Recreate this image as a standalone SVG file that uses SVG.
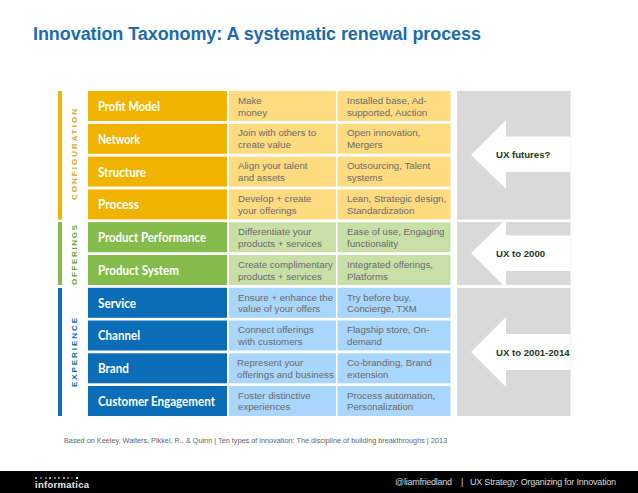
<svg xmlns="http://www.w3.org/2000/svg" width="638" height="493" viewBox="0 0 638 493">
<style>
text{font-family:"Liberation Sans",Arial,sans-serif}
.title{font-size:18px;font-weight:bold;fill:#1b6cb0}
.h{font-family:"Lato","Liberation Sans",sans-serif;font-size:14px;font-weight:bold;fill:#fff}
.d{font-size:9.700px;fill:#6a6a6a}
.v{font-size:8px;font-weight:bold;text-anchor:middle}
.ux{font-size:9.600px;font-weight:bold;fill:#1c3a1c}
.y1{fill:#f0b400}.y2{fill:#ffdb80}
.g1{fill:#84bb4a}.g2{fill:#c9dfa8}
.b1{fill:#0b6cb8}.b2{fill:#a9d6fc}
.gray{fill:#d9d9d9}.w{fill:#fff}
.f{font-size:9px;fill:#d8d8d8}
</style>
<rect width="638" height="493" fill="#fff"/>
<text class="title" x="33" y="40" textLength="448">Innovation Taxonomy: A systematic renewal process</text>
<g id="category-configuration"><rect class="y1" x="58" y="91" width="4" height="128.500"/><text class="v" transform="translate(77 154.500) rotate(-90)" fill="#d9a520" textLength="91">CONFIGURATION</text></g>
<g id="category-offerings"><rect class="g1" x="58" y="222" width="4" height="63"/><text class="v" transform="translate(77 255) rotate(-90)" fill="#6f9f3f" textLength="60">OFFERINGS</text></g>
<g id="category-experience"><rect class="b1" x="58" y="288" width="4" height="128"/><text class="v" transform="translate(77 352.500) rotate(-90)" fill="#0b6cb8" textLength="69">EXPERIENCE</text></g>
<g id="row-profit-model"><rect class="y1" x="88" y="91" width="139" height="30"/><rect class="y2" x="229" y="91" width="107" height="30"/><rect class="y2" x="337.500" y="91" width="113" height="30"/><text class="h" x="98" y="111" textLength="62" lengthAdjust="spacingAndGlyphs">Profit Model</text><text class="d" x="238" y="104">Make</text><text class="d" x="238" y="116">money</text><text class="d" x="347" y="104">Installed base, Ad-</text><text class="d" x="347" y="116">supported, Auction</text></g>
<g id="row-network"><rect class="y1" x="88" y="123.800" width="139" height="30"/><rect class="y2" x="229" y="123.800" width="107" height="30"/><rect class="y2" x="337.500" y="123.800" width="113" height="30"/><text class="h" x="98" y="144" textLength="42" lengthAdjust="spacingAndGlyphs">Network</text><text class="d" x="238" y="136">Join with others to</text><text class="d" x="238" y="148">create value</text><text class="d" x="347" y="136">Open innovation,</text><text class="d" x="347" y="148">Mergers</text></g>
<g id="row-structure"><rect class="y1" x="88" y="156.600" width="139" height="30"/><rect class="y2" x="229" y="156.600" width="107" height="30"/><rect class="y2" x="337.500" y="156.600" width="113" height="30"/><text class="h" x="98" y="177" textLength="48" lengthAdjust="spacingAndGlyphs">Structure</text><text class="d" x="238" y="169">Align your talent</text><text class="d" x="238" y="181">and assets</text><text class="d" x="347" y="169">Outsourcing, Talent</text><text class="d" x="347" y="181">systems</text></g>
<g id="row-process"><rect class="y1" x="88" y="189.400" width="139" height="30"/><rect class="y2" x="229" y="189.400" width="107" height="30"/><rect class="y2" x="337.500" y="189.400" width="113" height="30"/><text class="h" x="98" y="209" textLength="41" lengthAdjust="spacingAndGlyphs">Process</text><text class="d" x="238" y="202">Develop + create</text><text class="d" x="238" y="214">your offerings</text><text class="d" x="347" y="202">Lean, Strategic design,</text><text class="d" x="347" y="214">Standardization</text></g>
<g id="row-product-performance"><rect class="g1" x="88" y="222.200" width="139" height="30"/><rect class="g2" x="229" y="222.200" width="107" height="30"/><rect class="g2" x="337.500" y="222.200" width="113" height="30"/><text class="h" x="98" y="242" textLength="108" lengthAdjust="spacingAndGlyphs">Product Performance</text><text class="d" x="238" y="235">Differentiate your</text><text class="d" x="238" y="247">products + services</text><text class="d" x="347" y="235">Ease of use, Engaging</text><text class="d" x="347" y="247">functionality</text></g>
<g id="row-product-system"><rect class="g1" x="88" y="255" width="139" height="30"/><rect class="g2" x="229" y="255" width="107" height="30"/><rect class="g2" x="337.500" y="255" width="113" height="30"/><text class="h" x="98" y="275" textLength="81" lengthAdjust="spacingAndGlyphs">Product System</text><text class="d" x="238" y="268">Create complimentary</text><text class="d" x="238" y="280">products + services</text><text class="d" x="347" y="268">Integrated offerings,</text><text class="d" x="347" y="280">Platforms</text></g>
<g id="row-service"><rect class="b1" x="88" y="287.800" width="139" height="30"/><rect class="b2" x="229" y="287.800" width="107" height="30"/><rect class="b2" x="337.500" y="287.800" width="113" height="30"/><text class="h" x="98" y="308" textLength="38" lengthAdjust="spacingAndGlyphs">Service</text><text class="d" x="238" y="301">Ensure + enhance the</text><text class="d" x="238" y="312">value of your offers</text><text class="d" x="347" y="301">Try before buy,</text><text class="d" x="347" y="312">Concierge, TXM</text></g>
<g id="row-channel"><rect class="b1" x="88" y="320.500" width="139" height="30"/><rect class="b2" x="229" y="320.500" width="107" height="30"/><rect class="b2" x="337.500" y="320.500" width="113" height="30"/><text class="h" x="98" y="340" textLength="42" lengthAdjust="spacingAndGlyphs">Channel</text><text class="d" x="238" y="333">Connect offerings</text><text class="d" x="238" y="345">with customers</text><text class="d" x="347" y="333">Flagship store, On-</text><text class="d" x="347" y="345">demand</text></g>
<g id="row-brand"><rect class="b1" x="88" y="353.300" width="139" height="30"/><rect class="b2" x="229" y="353.300" width="107" height="30"/><rect class="b2" x="337.500" y="353.300" width="113" height="30"/><text class="h" x="98" y="373" textLength="31" lengthAdjust="spacingAndGlyphs">Brand</text><text class="d" x="237" y="366">Represent your</text><text class="d" x="237" y="378">offerings and business</text><text class="d" x="347" y="366">Co-branding, Brand</text><text class="d" x="347" y="378">extension</text></g>
<g id="row-customer-engagement"><rect class="b1" x="88" y="386" width="139" height="30"/><rect class="b2" x="229" y="386" width="107" height="30"/><rect class="b2" x="337.500" y="386" width="113" height="30"/><text class="h" x="98" y="406" textLength="117" lengthAdjust="spacingAndGlyphs">Customer Engagement</text><text class="d" x="238" y="399">Foster distinctive</text><text class="d" x="238" y="410">experiences</text><text class="d" x="347" y="399">Process automation,</text><text class="d" x="347" y="410">Personalization</text></g>
<g id="ux-futures"><rect class="gray" x="457" y="91" width="113.500" height="128.500"/><polygon class="w" points="471,155 506,120 506,136.500 570.500,136.500 570.500,172 506,172 506,189"/><text class="ux" x="496" y="158">UX futures?</text></g>
<g id="ux-2000"><rect class="gray" x="457" y="222" width="113.500" height="63"/><polygon class="w" points="503,222 471,253 503,285 506,285 506,271 570.500,271 570.500,235.500 506,235.500 506,222"/><text class="ux" x="496" y="257">UX to 2000</text></g>
<g id="ux-2001-2014"><rect class="gray" x="457" y="288" width="113.500" height="128"/><polygon class="w" points="471,352 506,317 506,334 570.500,334 570.500,370 506,370 506,387"/><text class="ux" x="496" y="356">UX to 2001-2014</text></g>
<text x="64" y="443" font-size="7.300" fill="#666" textLength="383">Based on Keeley, Walters, Pikkel, R., &amp; Quinn | Ten types of innovation: The discipline of building breakthroughs | 2013</text>
<g id="footer"><rect x="0" y="471" width="638" height="22" fill="#000"/>
<g id="logo-dots"><rect x="35" y="477" width="2" height="2" fill="#8aa"/><rect x="40" y="477" width="2" height="2" fill="#46a"/><rect x="45" y="477" width="2" height="2" fill="#a55"/><rect x="49" y="477" width="2" height="2" fill="#ba5"/><rect x="54" y="477" width="2" height="2" fill="#59a"/><rect x="58" y="477" width="2" height="2" fill="#a75"/><rect x="63" y="477" width="2" height="2" fill="#b95"/><rect x="67" y="477" width="2" height="2" fill="#a66"/><rect x="71" y="477" width="2" height="2" fill="#345"/><rect x="76" y="477" width="2" height="2" fill="#eee"/></g>
<text x="35" y="488" font-size="9.500" font-weight="bold" fill="#e8e8e8" textLength="54">informatica</text>
<text class="f" x="395" y="485" textLength="57">@liamfriedland</text>
<text class="f" x="461" y="485">|</text>
<text class="f" x="470" y="485" textLength="146">UX Strategy: Organizing for Innovation</text></g>
</svg>
